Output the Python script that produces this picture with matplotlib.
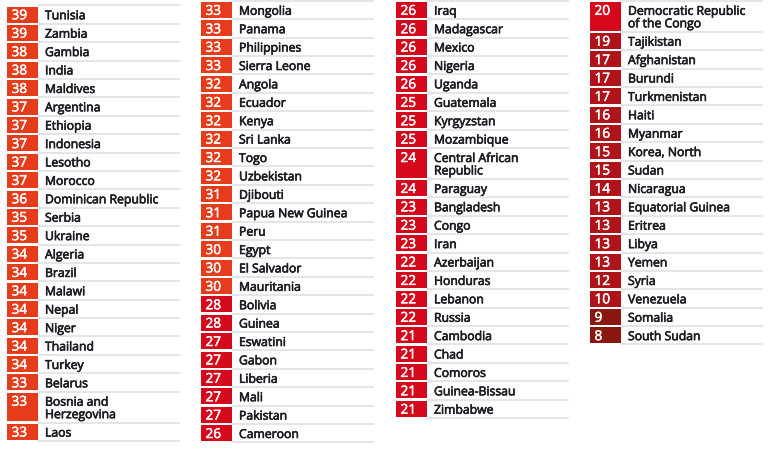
import matplotlib.pyplot as plt
import matplotlib.patheffects as pe

# puntuaciones por columna
col1_paises = ['Tunisia', 'Zambia', 'Gambia', 'India', 'Maldives', 'Argentina', 'Ethiopia',
               'Indonesia', 'Lesotho', 'Morocco', 'Dominican Republic', 'Serbia', 'Ukraine',
               'Algeria', 'Brazil', 'Malawi', 'Nepal', 'Niger', 'Thailand', 'Turkey',
               'Belarus', 'Bosnia and\nHerzegovina', 'Laos']
col1_puntos = [39, 39, 38, 38, 38, 37, 37, 37, 37, 37, 36, 35, 35, 34, 34, 34, 34, 34, 34, 34,
               33, 33, 33]

col2_paises = ['Mongolia', 'Panama', 'Philippines', 'Sierra Leone', 'Angola', 'Ecuador', 'Kenya',
               'Sri Lanka', 'Togo', 'Uzbekistan', 'Djibouti', 'Papua New Guinea', 'Peru',
               'Egypt', 'El Salvador', 'Mauritania', 'Bolivia', 'Guinea', 'Eswatini', 'Gabon',
               'Liberia', 'Mali', 'Pakistan', 'Cameroon']
col2_puntos = [33, 33, 33, 33, 32, 32, 32, 32, 32, 32, 31, 31, 31, 30, 30, 30, 28, 28, 27, 27,
               27, 27, 27, 26]

col3_paises = ['Iraq', 'Madagascar', 'Mexico', 'Nigeria', 'Uganda', 'Guatemala', 'Kyrgyzstan',
               'Mozambique', 'Central African\nRepublic', 'Paraguay', 'Bangladesh', 'Congo',
               'Iran', 'Azerbaijan', 'Honduras', 'Lebanon', 'Russia', 'Cambodia', 'Chad',
               'Comoros', 'Guinea-Bissau', 'Zimbabwe']
col3_puntos = [26, 26, 26, 26, 26, 25, 25, 25, 24, 24, 23, 23, 23, 22, 22, 22, 22, 21, 21, 21,
               21, 21]

col4_paises = ['Democratic Republic\nof the Congo', 'Tajikistan', 'Afghanistan', 'Burundi',
               'Turkmenistan', 'Haiti', 'Myanmar', 'Korea, North', 'Sudan', 'Nicaragua',
               'Equatorial Guinea', 'Eritrea', 'Libya', 'Yemen', 'Syria', 'Venezuela',
               'Somalia', 'South Sudan']
col4_puntos = [20, 19, 17, 17, 17, 16, 16, 15, 15, 14, 13, 13, 13, 13, 12, 10, 9, 8]

columnas = [(col1_paises, col1_puntos), (col2_paises, col2_puntos),
            (col3_paises, col3_puntos), (col4_paises, col4_puntos)]
x_inicio = [7, 201, 396, 590]
y_inicio = [7.5, 3, 3, 3]


def color_para(p):
    if p >= 30:
        return '#e63c1b'
    if p >= 20:
        return '#d5081c'
    if p >= 10:
        return '#ae1419'
    return '#8a1710'


paso = 18.4
alto = 16
extra = 12.5
ancho_caja = 31
fin_linea = 171.5

fig = plt.figure(figsize=(7.68, 4.60), dpi=100)
ax = fig.add_axes([0, 0, 1, 1])
ax.set_xlim(0, 768)
ax.set_ylim(460, 0)
ax.axis('off')

grueso_nombre = [pe.withStroke(linewidth=0.45, foreground='#1c1c24')]
grueso_num = [pe.withStroke(linewidth=0.35, foreground='white')]

for (paises, puntos), x0, y0 in zip(columnas, x_inicio, y_inicio):
    y = y0
    ax.plot([x0 + ancho_caja, x0 + fin_linea], [y - 1.2, y - 1.2], color='#e3e3e3', lw=1.3)
    for pais, p in zip(paises, puntos):
        lineas = pais.split('\n')
        h = alto + extra * (len(lineas) - 1)
        ax.bar(x0, h, width=ancho_caja, bottom=y, align='edge', color=color_para(p),
               edgecolor='none')
        ax.text(x0 + 4.5, y + 9.3, str(p), color='white', fontsize=9.8, family='Open Sans',
                va='center', ha='left', path_effects=grueso_num)
        for i, linea in enumerate(lineas):
            ax.text(x0 + 38, y + 9.3 + i * extra, linea, color='#1c1c24', fontsize=8.8,
                    family='Open Sans', va='center', ha='left', path_effects=grueso_nombre)
        y_fin = y + h + paso - alto
        ax.plot([x0 + ancho_caja, x0 + fin_linea], [y_fin - 1.2, y_fin - 1.2],
                color='#e3e3e3', lw=1.3)
        y = y_fin

plt.savefig('out.png', dpi=100)
